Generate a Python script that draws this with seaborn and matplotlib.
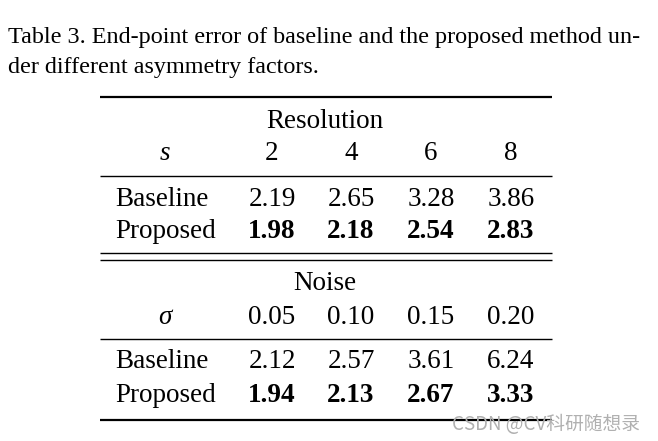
import matplotlib
matplotlib.use("Agg")
import matplotlib.pyplot as plt
import seaborn as sns

sns.set_theme(style="white")
plt.rcParams['font.family'] = ['Liberation Serif', 'DejaVu Serif']
plt.rcParams['text.color'] = 'black'

caption = ["Table 3. End-point error of baseline and the proposed method un-",
           "der different asymmetry factors."]
res_levels = ["2", "4", "6", "8"]
res_baseline = ["2.19", "2.65", "3.28", "3.86"]
res_proposed = ["1.98", "2.18", "2.54", "2.83"]
noise_levels = ["0.05", "0.10", "0.15", "0.20"]
noise_baseline = ["2.12", "2.57", "3.61", "6.24"]
noise_proposed = ["1.94", "2.13", "2.67", "3.33"]

fig = plt.figure(figsize=(6.58, 4.41), dpi=100)
ax = fig.add_axes([0, 0, 1, 1])
ax.set_xlim(0, 658); ax.set_ylim(441, 0); ax.axis("off")

fs = 19.5
ax.text(8, 38, caption[0], fontsize=17.4, va="center", ha="left", color="black")
ax.text(8, 68, caption[1], fontsize=17.4, va="center", ha="left", color="black")

cols = [272, 351, 431, 511]
def rule(y, lw=1.6):
    ax.plot([100, 552], [y, y], color="black", lw=lw, solid_capstyle="butt")

def block(y0, title, sym, levels, base, prop):
    kw = dict(fontsize=fs, va="center", color="black")
    ax.text(325, y0, title, ha="center", **kw)
    ax.text(165, y0 + 33, sym, ha="center", style="italic", **kw)
    for x, v in zip(cols, levels):
        ax.text(x, y0 + 33, v, ha="center", **kw)
    rule(y0 + 55, 1.0)
    ax.text(115, y0 + 78, "Baseline", ha="left", **kw)
    ax.text(115, y0 + 111, "Proposed", ha="left", **kw)
    for x, b, p in zip(cols, base, prop):
        ax.text(x, y0 + 78, b, ha="center", **kw)
        ax.text(x, y0 + 111, p, ha="center", weight="bold", **kw)

rule(97)
block(121, "Resolution", "s", res_levels, res_baseline, res_proposed)
rule(253, 1.0); rule(260, 1.0)
block(284, "Noise", "σ", noise_levels, noise_baseline, noise_proposed)
rule(420)
ax.text(640, 424, "CSDN @CV科研随想录", fontsize=13.5, ha="right", va="center",
        color="#b0b0b0", family=['Noto Sans CJK SC', 'DejaVu Sans'])
fig.savefig("out.png", dpi=100)
